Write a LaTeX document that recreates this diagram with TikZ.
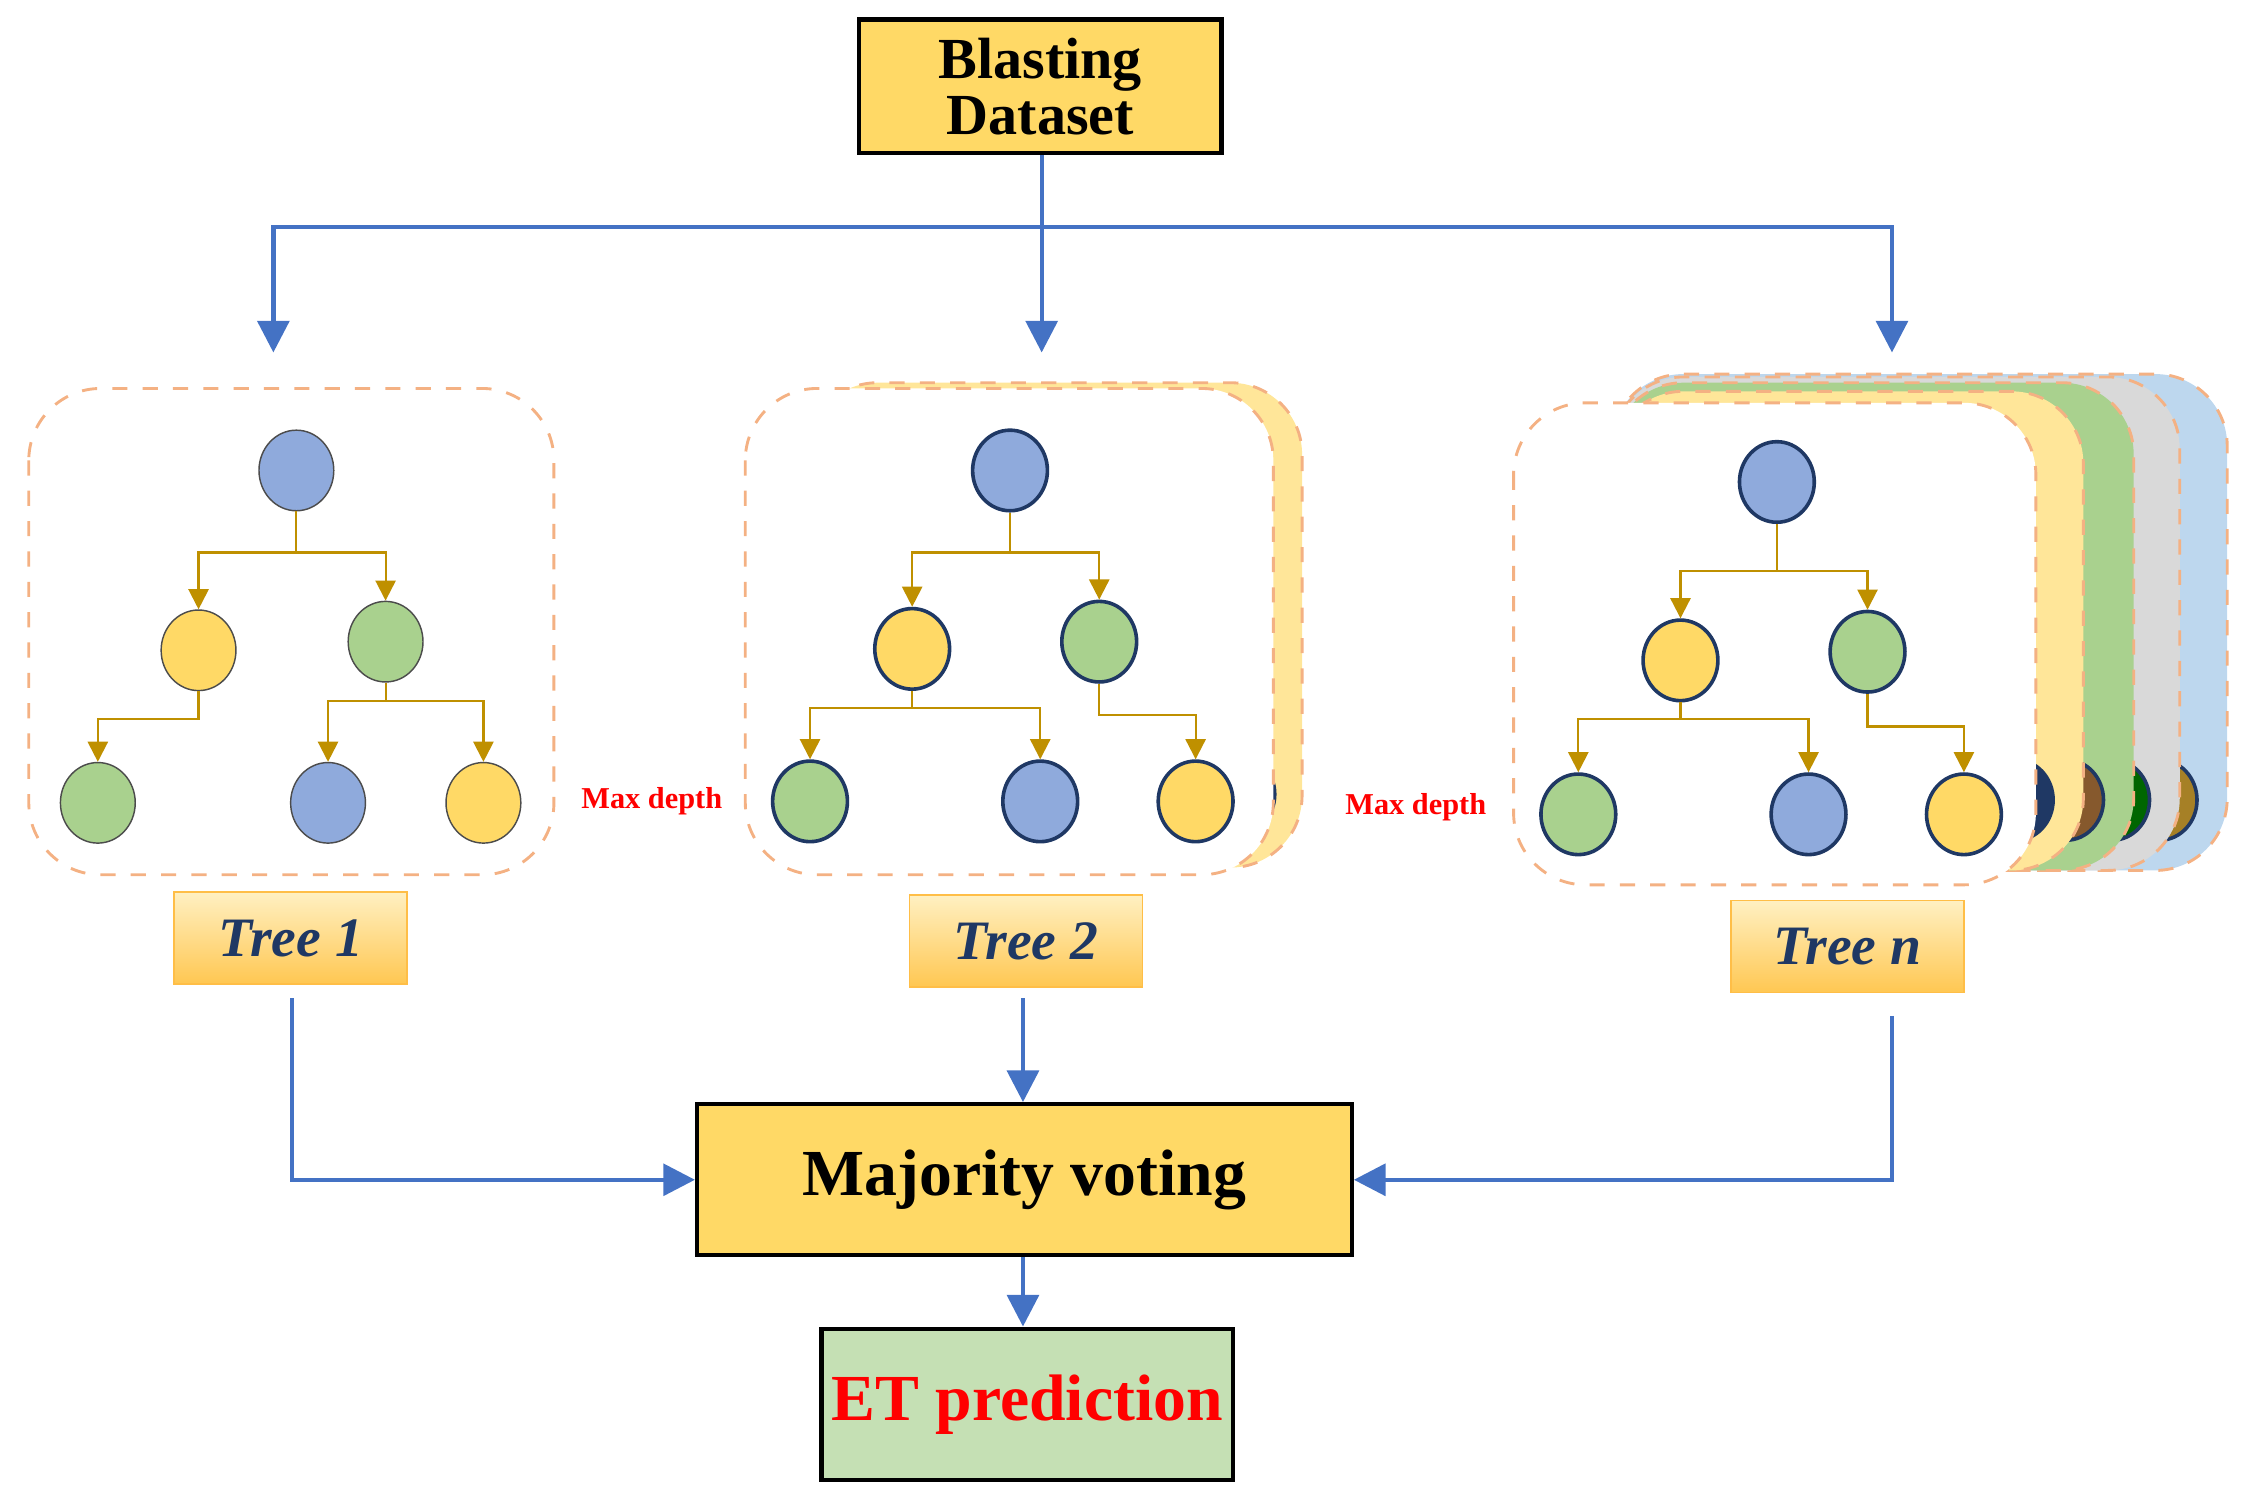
\documentclass[tikz,border=0pt]{standalone}
\usepackage{fontspec}
\setmainfont{Liberation Serif}
\usetikzlibrary{%
  arrows.meta,%
  shapes.geometric%
}

\definecolor{boxyellow}{HTML}{FFD966}
\definecolor{boxgreen}{HTML}{C5E0B4}
\definecolor{flowblue}{HTML}{4472C4}
\definecolor{edgegold}{HTML}{BF9000}
\definecolor{dashorange}{HTML}{F4B183}
\definecolor{leafblue}{HTML}{8FAADC}
\definecolor{leafgreen}{HTML}{A9D18E}
\definecolor{leafyellow}{HTML}{FFD966}
\definecolor{cardyellow}{HTML}{FFE699}
\definecolor{cardgreen}{HTML}{A9D18E}
\definecolor{cardgrey}{HTML}{D9D9D9}
\definecolor{cardblue}{HTML}{BDD7EE}
\definecolor{navy}{HTML}{1F3864}
\definecolor{labelblue}{HTML}{1F3864}

\tikzset{
  flow/.style={draw=flowblue, line width=0.3mm, -{Triangle[length=2.2mm,width=2.2mm]}},
  branch/.style={draw=edgegold, line width=0.15mm, -{Triangle[length=1.4mm,width=1.4mm]}},
  mainbox/.style={draw=black, line width=0.3mm, fill=boxyellow, align=center, inner sep=1pt,
    font=\bfseries\fontsize{11.5}{12}\selectfont},
  card/.style={draw=dashorange, dashed, line width=0.2mm, rounded corners=5mm},
  leaf/.style={ellipse, minimum width=5.2mm, minimum height=5.6mm, inner sep=0pt,
    draw=navy, line width=0.25mm},
  thinleaf/.style={leaf, draw=black!70, line width=0.1mm},
  treelabel/.style={draw=boxyellow!70!orange, line width=0.1mm,
    top color=cardyellow!60, bottom color=boxyellow!80!orange,
    minimum width=16.2mm, minimum height=6.4mm, text=labelblue,
    font=\bfseries\itshape\fontsize{11}{12}\selectfont},
  depth/.style={text=red, font=\bfseries\fontsize{6}{7}\selectfont}
}

\begin{document}
\begin{tikzpicture}[x=0.1mm, y=-0.1mm]
  \useasboundingbox (0,0) rectangle (1568,1045);

  % top of the flow
  \node[mainbox, minimum width=25.2mm, minimum height=9.3mm] (data) at (723,60)
    {Blasting\\[-1pt]Dataset};
  \coordinate (split) at (724,158);
  \coordinate (in1) at (190,245);
  \coordinate (in2) at (724,245);
  \coordinate (inn) at (1315,245);
  \draw[flow] (data.south -| split) -- (in2);
  \draw[flow] (split) -| (in1);
  \draw[flow] (split) -| (inn);

  % tree 1
  \draw[card, fill=white] (20,270) rectangle (385,608);
  \node[thinleaf, fill=leafblue]   (r1)  at (206,327) {};
  \node[thinleaf, fill=leafyellow] (a1)  at (138,452) {};
  \node[thinleaf, fill=leafgreen]  (b1)  at (268,446) {};
  \node[thinleaf, fill=leafgreen]  (c1)  at (68,558)  {};
  \node[thinleaf, fill=leafblue]   (d1)  at (228,558) {};
  \node[thinleaf, fill=leafyellow] (e1)  at (336,558) {};
  \draw[branch] (r1.south) |- (206,384) -| (a1.north);
  \draw[branch] (r1.south) |- (206,384) -| (b1.north);
  \draw[branch] (a1.south) |- (138,500) -| (c1.north);
  \draw[branch] (b1.south) |- (268,487) -| (d1.north);
  \draw[branch] (b1.south) |- (268,487) -| (e1.north);

  \node[depth] (md1) at (453,557) {Max depth};

  % tree 2, one card behind
  \draw[card, fill=cardyellow] (560,266) rectangle (905,603);
  \node[leaf, fill=navy] at (860,552) {};
  \draw[card, fill=white] (518,270) rectangle (885,608);
  \node[leaf, fill=leafblue]   (r2)  at (702,327) {};
  \node[leaf, fill=leafyellow] (a2)  at (634,451) {};
  \node[leaf, fill=leafgreen]  (b2)  at (764,446) {};
  \node[leaf, fill=leafgreen]  (c2)  at (563,557) {};
  \node[leaf, fill=leafblue]   (d2)  at (723,557) {};
  \node[leaf, fill=leafyellow] (e2)  at (831,557) {};
  \draw[branch] (r2.south) |- (702,384) -| (a2.north);
  \draw[branch] (r2.south) |- (702,384) -| (b2.north);
  \draw[branch] (a2.south) |- (634,492) -| (c2.north);
  \draw[branch] (a2.south) |- (634,492) -| (d2.north);
  \draw[branch] (b2.south) |- (764,497) -| (e2.north);

  \node[depth] (md2) at (984,561) {Max depth};

  % tree n, a stack of cards behind
  \foreach \right/\top/\bg/\peek in {1548/260/cardblue/brown!60!olive,
                                    1515/262/cardgrey/green!40!black,
                                    1483/266/cardgreen/brown!70!black,
                                    1448/272/cardyellow/navy}{
    \draw[card, fill=\bg] (1120,\top) rectangle (\right,605);
    \node[leaf, fill=\peek] at (\right-47,556) {};
  }
  \draw[card, fill=white] (1052,280) rectangle (1415,615);
  \node[leaf, fill=leafblue]   (rn)  at (1235,335) {};
  \node[leaf, fill=leafyellow] (an)  at (1168,459) {};
  \node[leaf, fill=leafgreen]  (bn)  at (1298,453) {};
  \node[leaf, fill=leafgreen]  (cn)  at (1097,566) {};
  \node[leaf, fill=leafblue]   (dn)  at (1257,566) {};
  \node[leaf, fill=leafyellow] (en)  at (1365,566) {};
  \draw[branch] (rn.south) |- (1235,397) -| (an.north);
  \draw[branch] (rn.south) |- (1235,397) -| (bn.north);
  \draw[branch] (an.south) |- (1168,500) -| (cn.north);
  \draw[branch] (an.south) |- (1168,500) -| (dn.north);
  \draw[branch] (bn.south) |- (1298,505) -| (en.north);

  % tree labels
  \node[treelabel] (t1) at (202,652) {Tree 1};
  \node[treelabel] (t2) at (713,654) {Tree 2};
  \node[treelabel] (tn) at (1284,658) {Tree \textit{n}};

  % voting and output
  \node[mainbox, minimum width=45.5mm, minimum height=10.5mm,
        font=\bfseries\fontsize{13}{14}\selectfont] (vote) at (712,820) {Majority voting};
  \node[mainbox, fill=boxgreen, text=red, minimum width=28.6mm, minimum height=10.5mm,
        font=\bfseries\fontsize{13}{14}\selectfont] (et) at (714,976) {ET prediction};

  \coordinate (o1) at (203,694);
  \coordinate (o2) at (711,694);
  \coordinate (on) at (1315,706);
  \draw[flow] (o1) |- (vote.west);
  \draw[flow] (o2) -- (vote.north -| o2);
  \draw[flow] (on) |- (vote.east);
  \draw[flow] (vote.south -| o2) -- (et.north -| o2);

\end{tikzpicture}
\end{document}
